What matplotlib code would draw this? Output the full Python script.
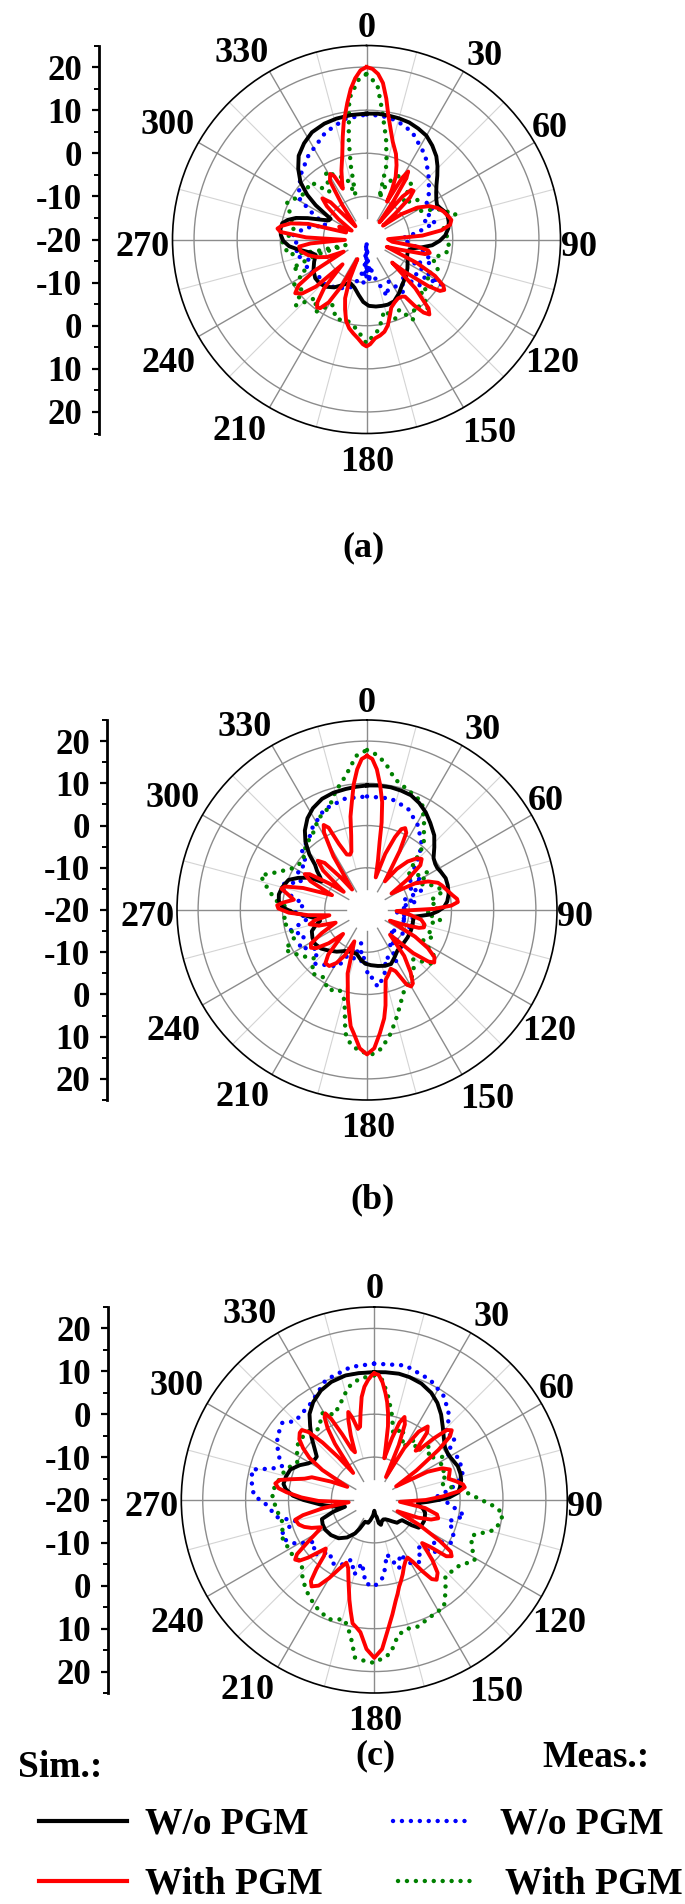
import numpy as np
import matplotlib
matplotlib.use("Agg")
import matplotlib.pyplot as plt
from matplotlib.lines import Line2D
from matplotlib.ticker import FixedLocator, MultipleLocator

plt.rcParams['font.family'] = ['Liberation Serif', 'DejaVu Serif']
plt.rcParams['font.weight'] = 'bold'
plt.rcParams['axes.unicode_minus'] = False

# ---- (angle deg clockwise from top, gain dB) ----
# panel (a)
a_sim_wo = [(0, 9.2), (5, 9.3), (10, 9.2), (15, 9.1), (20, 8.9), (25, 8.4), (30, 7.8), (35, 6.6), (40, 5.2),
            (44, 3.7), (48, 2.1), (52, 0.6), (56, -0.5), (60, -1.3), (64, -1.8), (67, -1.4), (71, -0.6),
            (74, -0.4), (78, -0.5), (82, -0.8), (87, -1.7), (91, -3), (95, -4.7), (98, -7), (101, -9.2),
            (105, -10), (111, -9.9), (118, -9.2), (125, -8.4), (133, -7.5), (142, -6.6), (149, -5.4),
            (156, -4.3), (162, -4.1), (167, -4.2), (172, -4.3), (178, -4.6), (183, -5.5), (188, -7),
            (194, -8.5), (200, -9.2), (204, -8.8), (208, -8), (214, -6.6), (221, -5.5), (227, -5.1),
            (233, -5.1), (240, -5.8), (247, -6.8), (253, -7.7), (256, -7), (259, -5.6), (262, -3.8),
            (265, -2), (269, -0.7), (273, -0.1), (277, 0.1), (281, -0.1), (284, -1.2), (287, -2.9),
            (290, -5.5), (294, -8.8), (297, -10.2), (300, -10.4), (302, -8.5), (304, -5.8), (307, -2.8),
            (311, 0.3), (316, 2.8), (321, 5), (327, 6.6), (333, 7.9), (340, 8.6), (346, 8.9), (353, 9.1),
            (360, 9.2)]
a_sim_pgm = [(0, 20), (2, 19.6), (4, 18.5), (6, 16.5), (8, 13), (10, 9.2), (12.5, 6), (15, 3.5), (19, 1),
             (22, -1.4), (25, -4), (27, -7), (28.5, -10), (30, -3.5), (31.5, -1.5), (33, -3), (35, -9),
             (37, -15), (40, -7), (42, -4.5), (44, -4.3), (46, -6), (48, -11), (50, -15), (54, -10),
             (58, -6), (62, -3.5), (66, -2), (70, -1), (74, -0.3), (77, 0.2), (80, -0.3), (83, -2.5),
             (86, -7), (89, -15), (95, -14), (98, -8), (100, -5.5), (102, -5), (104, -6), (107, -12),
             (110, -15), (115, -7), (118, -2), (121, 0.8), (123, 1.5), (125, 0.8), (127, -2), (130, -8),
             (132, -12), (135, -4), (138, 1.5), (140, 2.7), (142, 1.5), (144, -1), (146, -4), (148, -4.4),
             (152, -4.5), (156, -4), (160, -3.2), (163, -1.5), (166, 0.5), (169, 1.8), (172, 2.5), (175, 3),
             (178, 4.3), (180, 4.8), (182, 4.3), (185, 3), (188, 2), (191, 1), (194, -0.5), (197, -3),
             (200, -5.5), (203, -10), (205, -15), (208, -8), (211, -3), (214, -0.8), (216, -0.5),
             (218, -1.5), (221, -5), (224, -12), (227, -4), (230, -0.5), (233, 0.7), (236, -1), (239, -6),
             (242, -14), (246, -10), (250, -8), (255, -6), (260, -4.5), (264, -4.3), (266, -7), (269, -15),
             (272, -6), (275, 0), (277, 0.8), (279, 0), (282, -2), (285, -6), (289, -15), (295, -13),
             (301, -16), (306, -12), (310, -8), (313, -6), (316, -8), (320, -16), (325, -10), (328, -4),
             (331, -2.6), (333, -3.5), (335, -7), (337, -5.5), (340, -3), (344, 0.4), (347, 4.5),
             (349, 7.7), (352, 12), (354, 15.1), (356, 17.5), (358, 19.3), (360, 20)]
a_meas_wo = [(0, 9), (7, 8.9), (14, 8.5), (23, 7.1), (35, 3.8), (44, 0.7), (53, -1.8), (60, -4), (66, -3),
             (72, -6), (76, -3.5), (82, -8), (88, -11.7), (95, -10), (102, -6), (110, -4), (116, -8),
             (121, 0.4), (125, -6), (130, -3), (137, -8), (145, -5), (152, -9), (160, -6), (168, -11),
             (174, -14), (176, -10), (178, -19), (180, -11), (182, -19), (184, -10), (188, -12), (195, -9),
             (200, -8), (210, -7), (222, -5.8), (232, -6), (244, -4.4), (250, -6), (257, -3.2), (265, -4),
             (273, -2.8), (281, -5.6), (289, -10), (296, -6), (301, -2), (307, -0.4), (315, 1.5),
             (325, 3.6), (339, 6.6), (350, 8.4), (360, 9)]
a_meas_pgm = [(0, 18.4), (4, 16), (7, 10), (11, 3.8), (15, -2), (17, -10), (20, -6), (28, -3), (38, -3),
              (45, -8), (52, -5), (60, -7), (67, -2), (74, 1.5), (82, -2), (90, -1), (98, -0.7), (106, -4),
              (113, -2), (120, -4), (127, -1), (133, -3), (138, 1.5), (144, -1), (150, 1.5), (155, -2),
              (160, -0.5), (166, -3), (172, 1), (180, 4.1), (186, 1), (192, -0.5), (201, -0.3), (208, -3),
              (215, 0.5), (221, -2), (227, 2.4), (232, -1), (238, -0.2), (243, -4), (249, -1.5), (253, -8),
              (255, -15), (257, -8), (259, -1.6), (268, -0.5), (277, -3), (285, -2), (295, 0.3),
              (305, -1.9), (316, -1.6), (322, -6), (329, -1.7), (336, -4), (342, -5), (346, -9.4),
              (348, -2.4), (350, 3.8), (353, 12.9), (357, 17), (360, 18.4)]

# panel (b)
b_sim_wo = [(0, 9.5), (5, 9.6), (11, 9.6), (16, 9.4), (21, 9.1), (26, 8.2), (31, 7), (36, 5.5), (42, 3.8),
            (47, 1.8), (52, 0), (56, -0.5), (59, -0.6), (63, -0.3), (68, 0.1), (73, 0), (79, -0.3),
            (84, -0.9), (88, -1.8), (91, -3.2), (94, -4.9), (96, -7), (98, -8.7), (103, -8.8), (109, -8.6),
            (116, -8.5), (124, -8.4), (133, -8.3), (143, -8), (150, -7), (156, -6), (162, -6.1),
            (169, -6.5), (176, -6.9), (182, -7.3), (188, -8.3), (193, -9.3), (200, -9.4), (208, -9),
            (216, -7.8), (224, -6.7), (230, -5.8), (237, -5.3), (243, -5.5), (249, -6), (253, -7.2),
            (257, -8.6), (261, -7.5), (265, -5.3), (268, -2.5), (272, 0.1), (276, 1), (280, 1.2),
            (285, 0.8), (291, -0.1), (295, -2), (299, -4.2), (302, -7.3), (305, -6.5), (308, -5),
            (311, -3.7), (314, -1), (318, 1.8), (322, 3.9), (327, 5.9), (332, 7.3), (338, 8.4), (344, 8.9),
            (350, 9.1), (355, 9.3), (360, 9.5)]
b_sim_pgm = [(0, 16.5), (2, 15.8), (4, 13.4), (6, 9.8), (8, 5.8), (9.5, 1), (10.5, -3.6), (12.5, -8),
             (15, -12), (18, -6), (21, -1.5), (23, 0.8), (25, 1.4), (27, 0.5), (29, -4), (32, -12), (36, -8),
             (40, -5), (44, -3), (47, -2.3), (50, -3.5), (53, -8), (56, -13), (61, -7), (65, -4), (69, -2),
             (72, -1.3), (76, -0.5), (80, 0.5), (83, 1.5), (85, 1.6), (87, 0), (89, -4), (92, -13),
             (96, -10), (100, -7), (104, -6), (107, -5.9), (109, -7), (112, -11), (115, -14), (119, -7),
             (122, -3), (125, -0.5), (128, 0.2), (130, -1), (133, -5), (137, -12), (141, -6), (145, -2),
             (148, 0.5), (150, 0.9), (152, 0), (155, -4), (158, -5), (162, -3.8), (165, -2.9), (167, -0.5),
             (169, 3), (171, 6), (174, 9.3), (177, 12.8), (180, 14.2), (183, 12.8), (186, 9.5), (188, 7.8),
             (190, 4.5), (192, 1.8), (194, -1.2), (197, -4.3), (202, -12), (206, -8), (210, -5.5),
             (214, -4), (218, -4), (221, -6), (225, -12), (229, -8), (233, -5), (236, -4), (239, -4.5),
             (243, -8), (248, -12), (252, -8), (256, -6), (259, -7.5), (262, -11), (265, -6), (268, -1.5),
             (271, 1), (273, 1.3), (275, 0), (278, -2.5), (281, -1), (284, 0.9), (286, 0.2), (289, -4),
             (293, -11), (297, -5), (300, -3), (302, -4), (305, -9), (308, -13), (312, -6), (315, -3.5),
             (318, -5), (321, -10), (324, -14), (328, -5), (331, 1), (333, 2.6), (335, 1.5), (337, -3),
             (340, -6), (343, -6.3), (345, -5.7), (348, -2), (350, 2.5), (352, 5.8), (354, 10), (356, 13.4),
             (358, 15.8), (360, 16.5)]
b_meas_wo = [(0, 6.9), (12, 7), (22, 5.9), (31, 3.4), (40, 0.2), (46, -3.4), (50, -6), (55, -8.2), (60, -5),
             (65, -9), (70, -6), (75, -11), (80, -8), (85, -12), (90, -10), (95, -13), (100, -9), (105, -12),
             (110, -8), (117, -11), (123, -9.5), (130, -13), (137, -8), (145, -11), (150, -6), (158, -8),
             (165, -4), (172, -1.6), (176, -4), (179, -4.1), (183, -9), (186, -7.2), (190, -12), (195, -8),
             (200, -10), (207, -5), (215, -4), (224, -2.3), (232, -5), (241, -1.6), (248, -4), (255, -1.2),
             (262, -6), (268, -3), (275, -5), (283, 0.2), (287, 1), (293, -3), (300, -1), (307, -2),
             (313, 1.2), (320, 1.5), (326, 3.3), (337, 5.9), (349, 6.9), (360, 6.9)]
b_meas_pgm = [(0, 17.9), (3, 17), (7, 15.2), (12, 11.7), (20, 9.8), (27, 8.7), (33, 4.8), (41, 0.5), (46, -5),
              (52, -8), (58, -3), (64, -6), (70, -3), (76, -1.3), (82, -5), (88, -3), (93, -6), (98, -2.4),
              (105, -6), (112, -3), (118, -5), (124, -1), (130, -0.3), (137, -4), (142, -2), (148, -0.4),
              (154, 0.5), (159, 2.8), (164, 6), (169, 9.7), (174, 13), (178, 14.2), (183, 13.5), (187, 12),
              (190, 9.6), (194, 2), (199, 0), (206, 1.1), (213, -1), (221, -0.1), (228, -3), (235, -1),
              (244, 1.6), (250, -2), (257, -1), (263, 0.2), (270, -2), (276, 1.7), (282, 4), (288, 6.5),
              (293, 3), (299, 0.3), (307, -1), (317, 1.2), (324, 2), (332, 4.5), (340, 6), (345, 9),
              (351, 12.2), (356, 16.6), (360, 17.9)]

# panel (c)
c_sim_wo = [(0, 9.8), (5, 9.9), (11, 10), (16, 9.8), (22, 9.3), (28, 8.3), (33, 7), (38, 5.3), (43, 3.4),
            (48, 1.8), (53, 0.6), (57, 0.3), (60, 0.3), (64, 0.6), (68, 1), (73, 1), (77, 0.8), (81, 0.3),
            (85, -0.4), (88, -2.5), (90, -5.1), (92, -7.5), (94, -9.8), (97, -9.5), (100, -8.5),
            (104, -7.8), (108, -7.6), (113, -7.4), (118, -7.5), (122, -7.8), (124, -9.5), (126, -12),
            (130, -12.3), (135, -12.5), (140, -13.5), (145, -14.3), (150, -14.8), (155, -15), (160, -14.8),
            (165, -14), (169, -14.5), (172, -16), (176, -16.5), (180, -17.5), (184, -16.5), (187, -16),
            (191, -15.2), (195, -14.5), (199, -14.5), (203, -14.5), (207, -12.5), (210, -11), (216, -9.2),
            (223, -7.8), (231, -7), (239, -6.6), (245, -6.7), (250, -7), (254, -10), (257, -13), (260, -11),
            (263, -9), (265, -7.5), (267, -6.2), (270, -3.5), (273, -1), (277, 0.8), (280, 1.5), (285, 1.3),
            (290, 0.8), (295, -0.8), (299, -2.4), (303, -3.2), (307, -3.2), (311, -1.5), (315, 0.7),
            (319, 2.8), (323, 5.1), (328, 6.9), (334, 8.4), (340, 9.3), (347, 9.8), (353, 9.8), (360, 9.8)]
c_sim_pgm = [(0, 9.5), (2, 9.2), (4, 7.5), (6, 5), (7.5, 3), (9, 0.5), (10.5, -2.5), (12, -7), (13.5, -10),
             (16, -5), (18, -1), (20, 0.6), (22, -1), (24, -6), (27, -14), (30, -6), (33, -1), (36, 1.2),
             (38, 0), (40, -5), (42, -4), (44, 0), (46, 3.5), (48, 4.3), (50, 3), (52, -1), (55, -8),
             (58, -14), (62, -6), (65, -2.5), (68, -1), (71, -1.5), (74, -2), (77, -0.5), (80, 1), (82, 1.3),
             (84, 0), (87, -4), (90, -8), (94, -14), (99, -8), (103, -5), (106, -4.5), (109, -6), (112, -9),
             (116, -14), (119, -8), (122, -2), (124, 1.5), (126, 2.3), (128, 1.3), (130, -3), (132, -5),
             (134, -3), (136, -0.5), (139, 2.5), (142, 3.6), (144, 2.8), (146, 0), (148, -3), (150, -4.5),
             (153, -4), (156, -3), (159, -1.5), (162, 0), (164, 1), (166, 2.5), (168, 4), (171, 7),
             (174, 10.4), (177, 14.8), (180, 16.8), (183, 14.8), (186, 11), (188, 10), (190, 9.2),
             (192, 6.5), (194, 4), (196, 1.5), (198, -0.5), (201, -3), (204, -4), (207, -2), (210, 1),
             (213, 3.8), (216, 4.9), (218, 4), (220, 1), (222, -2.5), (225, -4), (227, -2), (229, 0.5),
             (231, 2.5), (233, 3.1), (235, 2), (238, -2), (241, -5), (243, -6), (246, -4), (249, -2.5),
             (252, -1.5), (256, -1), (258, -3), (261, -8), (265, -14), (269, -7), (272, -3), (275, 0.5),
             (277, 2.5), (279.5, 3.4), (282, 2.5), (284, 0), (287, -3), (290, -4.5), (293, -9), (296, -13),
             (300, -6), (303, -2), (306, 0.5), (309, 2.5), (312, 3.4), (314, 3.5), (316, 2), (318, -2),
             (320, -7), (322, -12), (325, -4), (327, 0), (329, 2.5), (330.5, 3.2), (332, 1.5), (334, -3),
             (336, -7), (338, -8), (340, -4), (342, -0.5), (343.5, 1.4), (345, 0), (347, -3), (349, -2.6),
             (351, 0.5), (353, 4.2), (355, 6.5), (357, 8), (359, 9.2), (360, 9.5)]
c_meas_wo = [(0, 11.8), (13, 12.2), (25, 10.9), (34, 9.1), (42, 6.2), (47, 2.6), (52, 4), (58, 0), (63, 2),
             (69, 1.7), (75, 1.4), (82, -2), (88, -6), (92, -3), (96, -1), (100, 1.4), (106, -2), (112, 0),
             (119, 0.6), (125, -3), (131, -1.2), (137, -5), (143, -2), (150, -2.9), (155, -6), (160, -3),
             (167, -7), (173, -2), (180, 0.2), (186, -0.5), (191, -5), (195, -2), (201, -5.1), (207, -3),
             (214, -2.2), (220, -4), (228, -1), (235, -3), (241, 1), (246, 2.8), (250, 2.9), (255, -1),
             (260, 3), (268, 5.4), (272, 8), (276, 8.7), (284, 9.4), (287, 5), (290, 2.9), (296, 5),
             (303, 7), (310, 8), (315, 6), (320, 6.3), (327, 7), (338, 10.2), (350, 11.5), (360, 11.8)]
c_meas_pgm = [(0, 9.1), (4, 8), (8, 4), (12, 0), (16, -4), (22, -2), (28, -6), (34, -3), (40, -5), (46, -2),
              (52, -4), (58, -1), (64, -3), (70, -2), (76, -4), (82, -1), (86, 2), (90, 5), (93, 8),
              (96, 10.2), (100, 9.8), (104, 8.9), (110, 4.2), (115, 5), (121, 7.3), (128, 5), (137, 4.3),
              (142, 7), (147, 9.8), (152, 10), (161, 11.2), (166, 11), (170, 12), (174, 16), (180, 18),
              (184, 17.5), (187, 17), (190, 12), (194, 8.7), (201, 9.8), (208, 8.5), (214, 7.2), (222, 5),
              (229, 2.4), (237, 3), (248, 3.2), (256, 2), (265, 3), (274, 4), (280, 3), (289, 1.9), (296, 0),
              (305, 2), (315, 2.5), (322, 1), (329, 3.6), (335, 2), (341, 4), (347, 7), (353, 8.5), (360, 9.1)]

theta_ticks = [0, 30, 60, 90, 120, 150, 180, 210, 240, 270, 300, 330]
theta_labels = ['0', '30', '60', '90', '120', '150', '180', '210', '240', '270', '300', '330']
ring_levels = [-10, 0, 10, 20]
scale_pos = [-40, -30, -20, -10, 0, 10, 20, 30, 40]
scale_labels = ['20', '10', '0', '-10', '-20', '-10', '0', '10', '20']
panel_tags = ['(a)', '(b)', '(c)']
legend_names = ['W/o PGM', 'With PGM']

RMIN, RMAX = -20, 25
W, H = 685, 1904

# pixel layout of each panel: centre, radius, x of the side scale, caption centre
layout = [
    dict(cx=366.5, cy=239.5, R=194, sx=99, tag=(364, 548)),
    dict(cx=367, cy=910, R=190, sx=107, tag=(372, 1200)),
    dict(cx=374.3, cy=1500, R=193, sx=108, tag=(375, 1756)),
]
# centre of each angle label relative to the panel centre (px, for a rim of 194 px)
label_offset = [(0, -215), (118, -187), (183, -115), (212, 4), (186, 120), (123, 190),
                (1, 219), (-127, 188), (-198, 120), (-224, 4), (-199, -118), (-125, -190)]

series = [
    [a_meas_wo, a_meas_pgm, a_sim_wo, a_sim_pgm],
    [b_meas_wo, b_meas_pgm, b_sim_wo, b_sim_pgm],
    [c_meas_wo, c_meas_pgm, c_sim_wo, c_sim_pgm],
]
dots = (0, (0.01, 2.0))
styles = [
    dict(color='#0000ff', lw=3.2, linestyle=dots, dash_capstyle='round', zorder=3),
    dict(color='#008000', lw=3.2, linestyle=dots, dash_capstyle='round', zorder=3),
    dict(color='black', lw=2.8, zorder=4, solid_joinstyle='round'),
    dict(color='#ff0000', lw=2.8, zorder=5, solid_joinstyle='round'),
]

LABEL_FS = 26
DIGIT_HALF = 0.338 * LABEL_FS * 100 / 72   # half the digit height in px


def fx(x):
    return x / W


def fy(y):
    return 1 - y / H


fig = plt.figure(figsize=(W / 100, H / 100), dpi=100)
fig.patch.set_facecolor('white')

for p, curves, tag in zip(layout, series, panel_tags):
    cx, cy, R = p['cx'], p['cy'], p['R']
    ax = fig.add_axes([fx(cx - R), fy(cy + R), 2 * R / W, 2 * R / H], projection='polar')
    ax.set_theta_zero_location('N')
    ax.set_theta_direction(-1)
    ax.set_ylim(RMIN, RMAX)
    ax.set_xticks([])
    ax.set_yticks(ring_levels)
    ax.set_yticklabels([])
    ax.yaxis.grid(True, color='#8c8c8c', lw=1.0)
    ax.spines['polar'].set_color('black')
    ax.spines['polar'].set_linewidth(1.2)
    for s in ['start', 'end', 'inner']:
        if s in ax.spines:
            ax.spines[s].set_visible(False)

    # spokes: dark every 30 deg, light in between
    for t in theta_ticks:
        ax.plot([np.deg2rad(t)] * 2, [-15, RMAX], color='#8c8c8c', lw=1.0, zorder=1)
        ax.plot([np.deg2rad(t + 15)] * 2, [-10, RMAX], color='#d4d4d4', lw=0.8, zorder=1)

    for pts, st in zip(curves, styles):
        deg, db = zip(*pts)
        ax.plot(np.deg2rad(deg), db, **st)

    k = R / 194.0
    for lab, (dx, dy) in zip(theta_labels, label_offset):
        fig.text(fx(cx + dx * k), fy(cy + dy * k + DIGIT_HALF), lab, ha='center', va='baseline',
                 fontsize=LABEL_FS, fontweight='bold')

    # side scale
    sax = fig.add_axes([fx(p['sx']), fy(cy + R), 0.0005, 2 * R / H])
    sax.set_ylim(-(RMAX - RMIN), RMAX - RMIN)
    sax.patch.set_visible(False)
    for s in ['top', 'right', 'bottom']:
        sax.spines[s].set_visible(False)
    sax.spines['left'].set_linewidth(2.0)
    sax.set_xticks([])
    sax.yaxis.set_major_locator(FixedLocator(scale_pos))
    sax.set_yticklabels(scale_labels)
    sax.yaxis.set_minor_locator(MultipleLocator(5))
    sax.tick_params(axis='y', which='major', direction='out', length=5, width=1.6,
                    labelsize=25, pad=7)
    sax.tick_params(axis='y', which='minor', direction='out', length=3.5, width=1.4)
    for t in sax.get_yticklabels():
        t.set_fontweight('bold')

    fig.text(fx(p['tag'][0]), fy(p['tag'][1]), tag, ha='center', va='center',
             fontsize=26, fontweight='bold')

# legend
fig.text(fx(18), fy(1777), 'Sim.:', ha='left', va='baseline', fontsize=27, fontweight='bold')
fig.text(fx(542), fy(1767), 'Meas.:', ha='left', va='baseline', fontsize=27, fontweight='bold')
rows = [1821, 1881]
for st, name, y in zip(styles[2:], legend_names, rows):
    fig.add_artist(Line2D([fx(39), fx(127)], [fy(y)] * 2, transform=fig.transFigure,
                          color=st['color'], lw=3))
    fig.text(fx(145), fy(y + 13), name, ha='left', va='baseline', fontsize=27, fontweight='bold')
for st, name, y, x0 in zip(styles[:2], legend_names, rows, [393, 398]):
    fig.add_artist(Line2D([fx(x0), fx(x0 + 80)], [fy(y)] * 2, transform=fig.transFigure,
                          color=st['color'], lw=3.2, linestyle=dots, dash_capstyle='round'))
    fig.text(fx(x0 + 107), fy(y + 13), name, ha='left', va='baseline', fontsize=27, fontweight='bold')

fig.savefig('out.png', dpi=100, facecolor='white')
